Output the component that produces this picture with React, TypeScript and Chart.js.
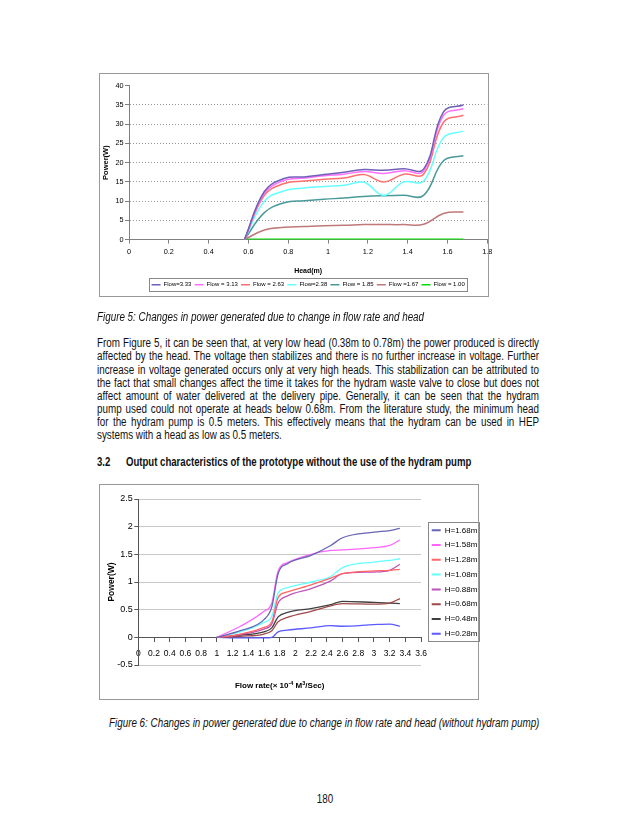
import React, { useEffect, useRef } from "react";
import { Chart, registerables } from "chart.js";
Chart.register(...registerables);

const FONT = "'Liberation Sans', Arial, sans-serif";
const SX = 0.8; // horizontal condensing for page text (narrow face look)

// ---------- Figure 5 data ----------
const fig5Heads = [0.58, 0.68, 0.78, 0.88, 0.98, 1.08, 1.18, 1.28, 1.38, 1.48, 1.58, 1.68];
const flow333 = [0, 12.5, 15.9, 16.3, 16.9, 17.5, 18.2, 18.0, 18.4, 18.3, 33.2, 35.0];
const flow313 = [0, 12.0, 15.4, 16.0, 16.6, 17.0, 17.7, 17.2, 17.9, 17.8, 32.3, 34.0];
const flow263 = [0, 11.5, 14.6, 15.2, 15.7, 16.0, 16.9, 15.0, 17.0, 17.0, 30.5, 32.3];
const flow238 = [0, 10.0, 12.7, 13.4, 13.8, 14.1, 14.9, 11.5, 15.0, 15.2, 26.5, 28.2];
const flow185 = [0, 7.0, 9.6, 10.1, 10.5, 10.8, 11.2, 11.4, 11.5, 11.5, 20.5, 21.8];
const flow167 = [0, 2.5, 3.2, 3.4, 3.6, 3.7, 3.9, 3.9, 3.9, 4.0, 6.8, 7.2];
const flow100 = [0, 0, 0, 0, 0, 0, 0, 0, 0, 0, 0, 0];
const fig5Series = [flow333, flow313, flow263, flow238, flow185, flow167, flow100];
const fig5Labels = ["Flow=3.33", "Flow = 3.13", "Flow = 2.63", "Flow=2.38", "Flow = 1.85", "Flow =1.67", "Flow = 1.00"];
const fig5Colors = ["#7060b8", "#ff70ff", "#ff7070", "#66ffff", "#4a9a9a", "#c07878", "#00e000"];
const fig5XTicks = [0, 0.2, 0.4, 0.6, 0.8, 1, 1.2, 1.4, 1.6, 1.8];
const fig5YTicks = [0, 5, 10, 15, 20, 25, 30, 35, 40];

// ---------- Figure 6 data ----------
const fig6Flows = [1.0, 1.3, 1.6, 1.7, 1.78, 1.9, 2.2, 2.45, 2.6, 3.0, 3.2, 3.33];
const h168 = [0, 0.12, 0.32, 0.55, 1.15, 1.33, 1.48, 1.66, 1.8, 1.9, 1.93, 1.97];
const h158 = [0, 0.2, 0.47, 0.62, 1.2, 1.35, 1.5, 1.57, 1.58, 1.62, 1.66, 1.76];
const h128 = [0, 0.06, 0.18, 0.28, 0.72, 0.82, 0.95, 1.07, 1.15, 1.2, 1.21, 1.23];
const h108 = [0, 0.1, 0.27, 0.38, 0.8, 0.9, 1.0, 1.1, 1.26, 1.36, 1.39, 1.42];
const h088 = [0, 0.05, 0.15, 0.24, 0.62, 0.75, 0.88, 1.02, 1.15, 1.18, 1.21, 1.32];
const h068 = [0, 0.02, 0.06, 0.12, 0.28, 0.36, 0.47, 0.57, 0.61, 0.6, 0.62, 0.7];
const h048 = [0, 0.04, 0.1, 0.17, 0.37, 0.45, 0.52, 0.59, 0.65, 0.63, 0.62, 0.61];
const h028 = [0, -0.01, -0.01, 0, 0.1, 0.13, 0.17, 0.21, 0.2, 0.23, 0.24, 0.2];
const fig6Series = [h168, h158, h128, h108, h088, h068, h048, h028];
const fig6Labels = ["H=1.68m", "H=1.58m", "H=1.28m", "H=1.08m", "H=0.88m", "H=0.68m", "H=0.48m", "H=0.28m"];
const fig6Colors = ["#6666b3", "#ff66ff", "#ff6666", "#66ffff", "#bb55bb", "#a04848", "#404040", "#5a5aff"];
const fig6XTicks = [0, 0.2, 0.4, 0.6, 0.8, 1, 1.2, 1.4, 1.6, 1.8, 2, 2.2, 2.4, 2.6, 2.8, 3, 3.2, 3.4, 3.6];
const fig6YTicks = [-0.5, 0, 0.5, 1, 1.5, 2, 2.5];
const fig6XTitle = [
  { t: "Flow rate(× 10", sup: false },
  { t: "-4", sup: true },
  { t: " M", sup: false },
  { t: "3", sup: true },
  { t: "/Sec)", sup: false },
];

// ---------- Page text ----------
const caption5 = "Figure 5: Changes in power generated due to change in flow rate and head";
const bodyLines = [
  "From Figure 5, it can be seen that, at very low head (0.38m to 0.78m) the power produced is directly",
  "affected by the head. The voltage then stabilizes and there is no further increase in voltage. Further",
  "increase in voltage generated occurs only at very high heads. This stabilization can be attributed to",
  "the fact that small changes affect the time it takes for the hydram waste valve to close but does not",
  "affect amount of water delivered at the delivery pipe.  Generally, it can be seen that the hydram",
  "pump used could not operate at heads below 0.68m. From the literature study, the minimum head",
  "for the hydram pump is 0.5 meters. This effectively means that the hydram can be used in HEP",
  "systems with a head as low as 0.5 meters.",
];
const headingNum = "3.2";
const headingText = "Output characteristics of the prototype without the use of the hydram pump";
const caption6 = "Figure 6:  Changes in power generated due to change in flow rate and head (without hydram pump)";
const pageNumber = "180";

const fmt = (v: any) => String(parseFloat(Number(v).toFixed(1)));

const lineLabels = (chart: any) =>
  (Chart.defaults.plugins.legend.labels as any)
    .generateLabels(chart)
    .map((l: any) => ({ ...l, fillStyle: l.strokeStyle, lineWidth: 0 }));

const legendFrame = {
  id: "legendFrame",
  afterDraw(chart: any, _args: any, opts: any) {
    const lg: any = chart.legend;
    if (!lg || !lg.legendHitBoxes || !lg.legendHitBoxes.length) return;
    let l = Infinity, t = Infinity, r = -Infinity, b = -Infinity;
    for (const h of lg.legendHitBoxes) {
      l = Math.min(l, h.left);
      t = Math.min(t, h.top);
      r = Math.max(r, h.left + h.width);
      b = Math.max(b, h.top + h.height);
    }
    const x0 = Math.round(l - opts.padL) + 0.5;
    const y0 = Math.round(t - opts.padT) + 0.5;
    const x1 = Math.round(r + opts.padR) + 0.5;
    const y1 = Math.round(b + opts.padB) + 0.5;
    const ctx = chart.ctx;
    ctx.save();
    ctx.strokeStyle = opts.color || "#888";
    ctx.lineWidth = 1;
    ctx.strokeRect(x0, y0, x1 - x0, y1 - y0);
    ctx.restore();
  },
};

const superTitle = {
  id: "superTitle",
  afterDraw(chart: any, _args: any, opts: any) {
    if (!opts || !opts.parts) return;
    const ctx = chart.ctx;
    const ca = chart.chartArea;
    const base = `bold ${opts.size}px ${FONT}`;
    const small = `bold ${opts.supSize}px ${FONT}`;
    ctx.save();
    let total = 0;
    for (const p of opts.parts) {
      ctx.font = p.sup ? small : base;
      total += ctx.measureText(p.t).width;
    }
    let x = (ca.left + ca.right) / 2 - total / 2;
    ctx.textBaseline = "middle";
    ctx.textAlign = "left";
    ctx.fillStyle = "#000";
    for (const p of opts.parts) {
      ctx.font = p.sup ? small : base;
      ctx.fillText(p.t, x, p.sup ? opts.y - opts.raise : opts.y);
      x += ctx.measureText(p.t).width;
    }
    ctx.restore();
  },
};

function Figure5() {
  const ref = useRef<HTMLCanvasElement>(null);
  useEffect(() => {
    if (!ref.current) return;
    const chart = new Chart(ref.current, {
      type: "line",
      data: {
        datasets: fig5Series.map((s, i) => ({
          label: fig5Labels[i],
          data: s.map((y, j) => ({ x: fig5Heads[j], y })),
          borderColor: fig5Colors[i],
          backgroundColor: fig5Colors[i],
          borderWidth: i === 6 ? 2 : 1.5,
          pointRadius: 0,
          tension: 0.4,
          fill: false,
        })),
      },
      options: {
        animation: false,
        responsive: false,
        events: [],
        layout: { padding: { left: 0, top: 12.7, right: 11.7, bottom: 5.2 } },
        scales: {
          x: {
            type: "linear",
            min: 0,
            max: 1.8,
            afterBuildTicks: (s: any) => { s.ticks = fig5XTicks.map((v) => ({ value: v })); },
            afterFit: (s: any) => { s.height = 39; },
            grid: { display: true, drawOnChartArea: false, drawTicks: true, tickLength: 4, color: "#808080" },
            border: { display: true, color: "#808080", width: 1 },
            ticks: { padding: 4.2, color: "#000", maxRotation: 0, autoSkip: false, font: { family: FONT, size: 7.3 }, callback: fmt },
            title: { display: true, text: "Head(m)", color: "#000", font: { family: FONT, size: 7, weight: "bold" }, padding: { top: 0, bottom: 3.15 } },
          },
          y: {
            type: "linear",
            min: 0,
            max: 40,
            afterBuildTicks: (s: any) => { s.ticks = fig5YTicks.map((v) => ({ value: v })); },
            afterFit: (s: any) => { s.width = 30; },
            grid: {
              color: (c: any) => (c.tick && (c.tick.value === 40 || c.tick.value === 0) ? "rgba(0,0,0,0)" : "#999"),
              tickColor: "#808080",
              tickLength: 4,
            },
            border: { display: true, color: "#808080", width: 1, dash: [1, 2] },
            ticks: { padding: 1.5, color: "#000", font: { family: FONT, size: 7.3 }, callback: fmt },
            title: { display: true, text: "Power(W)", color: "#000", font: { family: FONT, size: 7.5, weight: "bold" }, padding: { top: 2.2, bottom: 0 } },
          },
        },
        plugins: {
          tooltip: { enabled: false },
          legend: {
            position: "bottom",
            fullSize: false,
            labels: {
              font: { family: FONT, size: 6 },
              color: "#000",
              boxWidth: 9,
              boxHeight: 1.5,
              padding: 3.2,
              generateLabels: lineLabels,
            },
          },
          legendFrame: { padL: 3, padR: 2, padT: 3.3, padB: 3.3, color: "#888" },
        } as any,
      },
      plugins: [legendFrame],
    } as any);
    return () => chart.destroy();
  }, []);
  return <canvas ref={ref} width={400} height={230} style={{ position: "absolute", left: 99, top: 73, width: 400, height: 230 }} />;
}

function Figure6() {
  const ref = useRef<HTMLCanvasElement>(null);
  useEffect(() => {
    if (!ref.current) return;
    const chart = new Chart(ref.current, {
      type: "line",
      data: {
        datasets: fig6Series.map((s, i) => ({
          label: fig6Labels[i],
          data: s.map((y, j) => ({ x: fig6Flows[j], y })),
          borderColor: fig6Colors[i],
          backgroundColor: fig6Colors[i],
          borderWidth: 1.3,
          pointRadius: 0,
          cubicInterpolationMode: "monotone",
          fill: false,
        })),
      },
      options: {
        animation: false,
        responsive: false,
        events: [],
        layout: { padding: { left: 0, top: 15, right: 11.6, bottom: 36 } },
        scales: {
          x: {
            type: "linear",
            position: { y: 0 },
            min: 0,
            max: 3.6,
            afterBuildTicks: (s: any) => { s.ticks = fig6XTicks.map((v) => ({ value: v })); },
            grid: { display: true, drawOnChartArea: false, drawTicks: true, tickLength: 4, color: "#555" },
            border: { display: true, color: "#555", width: 1 },
            ticks: { padding: 6.9, color: "#000", maxRotation: 0, autoSkip: false, font: { family: FONT, size: 8.5 }, callback: fmt },
          },
          y: {
            type: "linear",
            min: -0.5,
            max: 2.5,
            afterBuildTicks: (s: any) => { s.ticks = fig6YTicks.map((v) => ({ value: v })); },
            afterFit: (s: any) => { s.width = 39.3; },
            grid: {
              color: (c: any) => (c.tick && c.tick.value === 0 ? "rgba(0,0,0,0)" : "#c8c8c8"),
              tickColor: "#555",
              tickLength: 4,
            },
            border: { display: true, color: "#555", width: 1 },
            ticks: { padding: 1.6, color: "#000", font: { family: FONT, size: 9 }, callback: fmt },
            title: { display: true, text: "Power(W)", color: "#000", font: { family: FONT, size: 8.5, weight: "bold" }, padding: { top: 7.6, bottom: 0 } },
          },
          yR: {
            type: "linear",
            position: "right",
            display: true,
            grid: { display: false },
            border: { display: false },
            ticks: { display: false },
            afterFit: (s: any) => { s.width = 3.9; },
          },
        },
        plugins: {
          tooltip: { enabled: false },
          legend: {
            position: "right",
            fullSize: false,
            align: "center",
            labels: {
              font: { family: FONT, size: 8 },
              color: "#000",
              boxWidth: 9,
              boxHeight: 2,
              padding: 6.76,
              generateLabels: lineLabels,
            },
          },
          legendFrame: { padL: 3.4, padR: 1.5, padT: 4, padB: 3, color: "#888" },
          superTitle: { parts: fig6XTitle, size: 8, supSize: 5.5, raise: 3, y: 202 },
        } as any,
      },
      plugins: [legendFrame, superTitle],
    } as any);
    return () => chart.destroy();
  }, []);
  return <canvas ref={ref} width={400} height={217} style={{ position: "absolute", left: 99, top: 484, width: 400, height: 217 }} />;
}

const textColor = "#111";
const FS = 12.3;

const narrow = (left: number, top: number, extra: any, sx: number = SX) => ({
  position: "absolute",
  left,
  top,
  fontSize: FS,
  lineHeight: "14px",
  transform: `scaleX(${sx})`,
  transformOrigin: "0 0",
  whiteSpace: "nowrap",
  ...extra,
});

export default function App() {
  const lineH = 13.1;
  return (
    <div style={{ position: "absolute", left: 0, top: 0, width: 638, height: 826, background: "#fff", fontFamily: FONT, color: textColor, overflow: "hidden" }}>
      <Figure5 />
      <div style={{ position: "absolute", left: 99, top: 73, width: 390, height: 224, border: "1px solid #999", boxSizing: "border-box", pointerEvents: "none" }} />
      <div style={narrow(97, 309.7, { fontStyle: "italic" }) as any}>{caption5}</div>
      {bodyLines.map((t, i) => {
        const last = i === bodyLines.length - 1;
        return (
          <div
            key={i}
            style={{
              position: "absolute",
              left: 97,
              top: 343.3 + i * lineH - 7,
              width: 442 / SX,
              fontSize: FS,
              lineHeight: "14px",
              transform: `scaleX(${SX})`,
              transformOrigin: "0 0",
              textAlign: last ? "left" : "justify",
              textAlignLast: last ? "left" : "justify",
            } as any}
          >
            {t}
          </div>
        );
      })}
      <div style={narrow(97, 454.7, { fontWeight: "bold" }, 0.78) as any}>{headingNum}</div>
      <div style={narrow(126, 454.7, { fontWeight: "bold" }, 0.78) as any}>{headingText}</div>
      <Figure6 />
      <div style={{ position: "absolute", left: 99, top: 484, width: 380, height: 216, border: "1px solid #999", boxSizing: "border-box", pointerEvents: "none" }} />
      <div style={narrow(109, 715.7, { fontStyle: "italic" }) as any}>{caption6}</div>
      <div style={{ position: "absolute", left: 300, width: 50, textAlign: "center", top: 792, fontSize: FS, lineHeight: "14px", transform: `scaleX(${SX})` }}>{pageNumber}</div>
    </div>
  );
}
